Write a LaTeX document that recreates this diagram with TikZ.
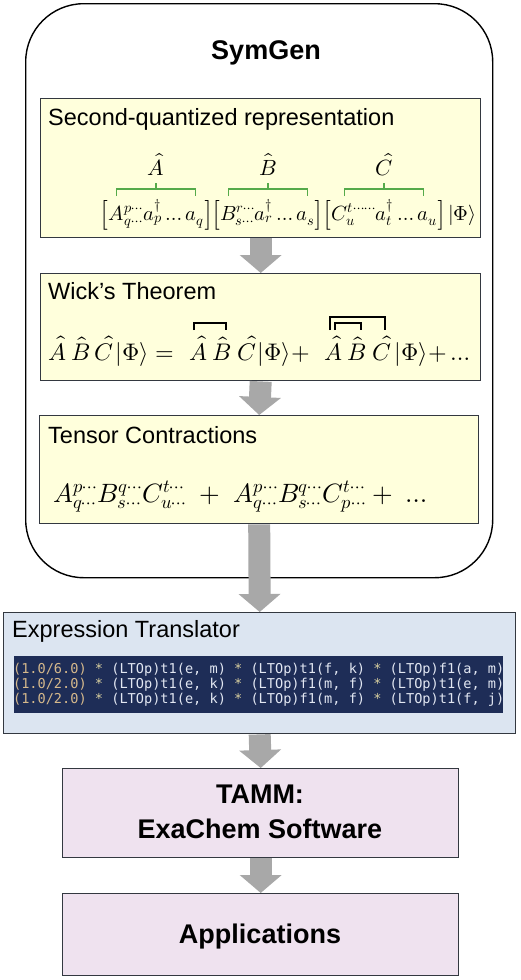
\documentclass[tikz,border=0pt]{standalone}
\usepackage{fontspec}
\usepackage{unicode-math}
\setmainfont{Liberation Sans}
\setmathfont{Latin Modern Math}
\newfontfamily\codefont{DejaVu Sans Mono}
\usetikzlibrary{arrows.meta,calc}
\definecolor{ybox}{HTML}{FFFFDC}
\definecolor{bbox}{HTML}{DCE5F1}
\definecolor{pbox}{HTML}{EFE2EF}
\definecolor{boxline}{HTML}{333840}
\definecolor{arrowgray}{HTML}{A8A8A8}
\definecolor{bracegreen}{HTML}{55AA4A}
\definecolor{navy}{HTML}{1E2D57}
\definecolor{numc}{HTML}{D6B98C}
\definecolor{starc}{HTML}{D8CFA0}
\definecolor{codec}{HTML}{E2E7F2}
\begin{document}
\begin{tikzpicture}[x=1pt,y=-1pt,
  panel/.style={draw=boxline, line width=1.4pt, anchor=north west, inner sep=0pt},
  title/.style={anchor=base west, inner sep=0pt, font=\fontsize{23.5}{28}\selectfont},
  bigbold/.style={inner sep=0pt, anchor=base, font=\fontsize{27}{32}\selectfont\bfseries},
  flow/.style={line width=22pt, draw=arrowgray, -{Triangle[width=41pt,length=18pt]}},
  brace/.style={draw=bracegreen, line width=1.4pt},
  contr/.style={draw=black, line width=1.3pt},
  mth/.style={inner sep=0pt, anchor=base, font=\fontsize{#1}{#1}\selectfont},
  mth/.default=24]
\useasboundingbox (0,0) rectangle (520,980);

% outer SymGen frame
\node[draw=black, line width=1.4pt, rounded corners=58pt, anchor=north west,
      minimum width=467pt, minimum height=574pt, inner sep=0pt] (symgen) at (25,3) {};
\node[bigbold] (symgentitle) at (266,59) {SymGen};

% panel 1
\node[panel, fill=ybox, minimum width=440pt, minimum height=139pt] (sq) at (40,98) {};
\node[title] (sqtitle) at (48,125) {Second-quantized representation};
\node[mth=22] (hA) at (156,175) {$\hat{A}$};
\node[mth=22] (hB) at (268,175) {$\hat{B}$};
\node[mth=22] (hC) at (384,175) {$\hat{C}$};
\foreach \h in {hA,hB,hC}{
  \draw[brace] ($(\h.base)+(-39.5,21)$) -- ++(0,-7) -- ++(79,0) -- ++(0,7);
  \draw[brace] ($(\h.base)+(0,14)$) -- ++(0,-6);
}
\node[mth=20.5] (eA) at (156.5,220) {$\left[A^{p\cdots}_{q\cdots}a^{\dagger}_{p}\dots a_{q}\right]$};
\node[mth=20.5] (eB) at (267.5,220) {$\left[B^{r\cdots}_{s\cdots}a^{\dagger}_{r}\dots a_{s}\right]$};
\node[mth=20.5] (eC) at (384.5,220) {$\left[C^{t\cdots\cdots}_{u}a^{\dagger}_{t}\dots a_{u}\right]$};
\node[mth=20.5] (eP) at (462.5,220) {$|\Phi\rangle$};

% panel 2
\node[panel, fill=ybox, minimum width=440pt, minimum height=107pt] (wick) at (40,273) {};
\node[title] (wicktitle) at (48,299) {Wick’s Theorem};
\node[mth] (w1) at (57,360) {$\hat{A}$};
\node[mth] (w2) at (81,360) {$\hat{B}$};
\node[mth] (w3) at (104,360) {$\hat{C}$};
\node[mth] (w4) at (132,360) {$|\Phi\rangle$};
\node[mth] (w5) at (165,360) {$=$};
\node[mth] (w6) at (198,360) {$\hat{A}$};
\node[mth] (w7) at (222,360) {$\hat{B}$};
\node[mth] (w8) at (247,360) {$\hat{C}$};
\node[mth] (w9) at (284,360) {$|\Phi\rangle{+}$};
\node[mth] (w10) at (333,360) {$\hat{A}$};
\node[mth] (w11) at (357,360) {$\hat{B}$};
\node[mth] (w12) at (382,360) {$\hat{C}$};
\node[mth] (w13) at (435,360) {$|\Phi\rangle{+}\dots$};
\coordinate (lowy) at (0,330);
\coordinate (midy) at (0,323);
\coordinate (topy) at (0,317);
\draw[contr] ($(w6.base |- lowy)+(-4,0)$) |- ($(w7.base |- midy)+(4,0)$) -- ($(w7.base |- lowy)+(4,0)$);
\draw[contr] ($(w10.base |- lowy)+(-3,0)$) |- ($(w12.base |- topy)+(3,0)$) -- ($(w12.base |- lowy)+(3,0)$);
\draw[contr] ($(w10.base |- lowy)+(2,0)$) |- ($(w11.base |- midy)+(4,0)$) -- ($(w11.base |- lowy)+(4,0)$);

% panel 3
\node[panel, fill=ybox, minimum width=439pt, minimum height=108pt] (tensor) at (39,415) {};
\node[title] (tensortitle) at (48,443) {Tensor Contractions};
\node[mth=26.5, anchor=base west] (teq) at (53,502)
  {$A^{p\cdots}_{q\cdots}B^{q\cdots}_{s\cdots}C^{t\cdots}_{u\cdots}\;+\;A^{p\cdots}_{q\cdots}B^{q\cdots}_{s\cdots}C^{t\cdots}_{p\cdots}+\;\dots$};

% panel 4
\node[panel, fill=bbox, minimum width=512pt, minimum height=121pt] (trans) at (3,612) {};
\node[title] (transtitle) at (12,637) {Expression Translator};
\node[fill=navy, anchor=north west, minimum width=489pt, minimum height=57pt, inner sep=0pt] (code) at (14,656) {};
\node[inner sep=0pt, align=left, text=codec, font=\codefont\fontsize{13.6}{15}\selectfont] (codetext) at (code.center)
 {\textcolor{numc}{(1.0/6.0)} \textcolor{starc}{*} (LTOp)t1(e, m) \textcolor{starc}{*} (LTOp)t1(f, k) \textcolor{starc}{*} (LTOp)f1(a, m)\\
  \textcolor{numc}{(1.0/2.0)} \textcolor{starc}{*} (LTOp)t1(e, k) \textcolor{starc}{*} (LTOp)f1(m, f) \textcolor{starc}{*} (LTOp)t1(e, m)\\
  \textcolor{numc}{(1.0/2.0)} \textcolor{starc}{*} (LTOp)t1(e, k) \textcolor{starc}{*} (LTOp)f1(m, f) \textcolor{starc}{*} (LTOp)t1(f, j)};

% panel 5, 6
\node[panel, fill=pbox, minimum width=396pt, minimum height=89pt] (tamm) at (62,768) {};
\node[bigbold] (tammA) at (260,803) {TAMM:};
\node[bigbold] (tammB) at (260,838) {ExaChem Software};
\node[panel, fill=pbox, minimum width=396pt, minimum height=82pt] (apps) at (62,893) {};
\node[bigbold] (appstitle) at (260,943) {Applications};

% flow arrows
\draw[flow] (sq.south) -- (wick.north);
\draw[flow] (wick.south) -- (tensor.north);
\draw[flow] (tensor.south) -- (trans.north);
\draw[flow] (trans.south) -- (tamm.north);
\draw[flow] (tamm.south) -- (apps.north);
\end{tikzpicture}
\end{document}
